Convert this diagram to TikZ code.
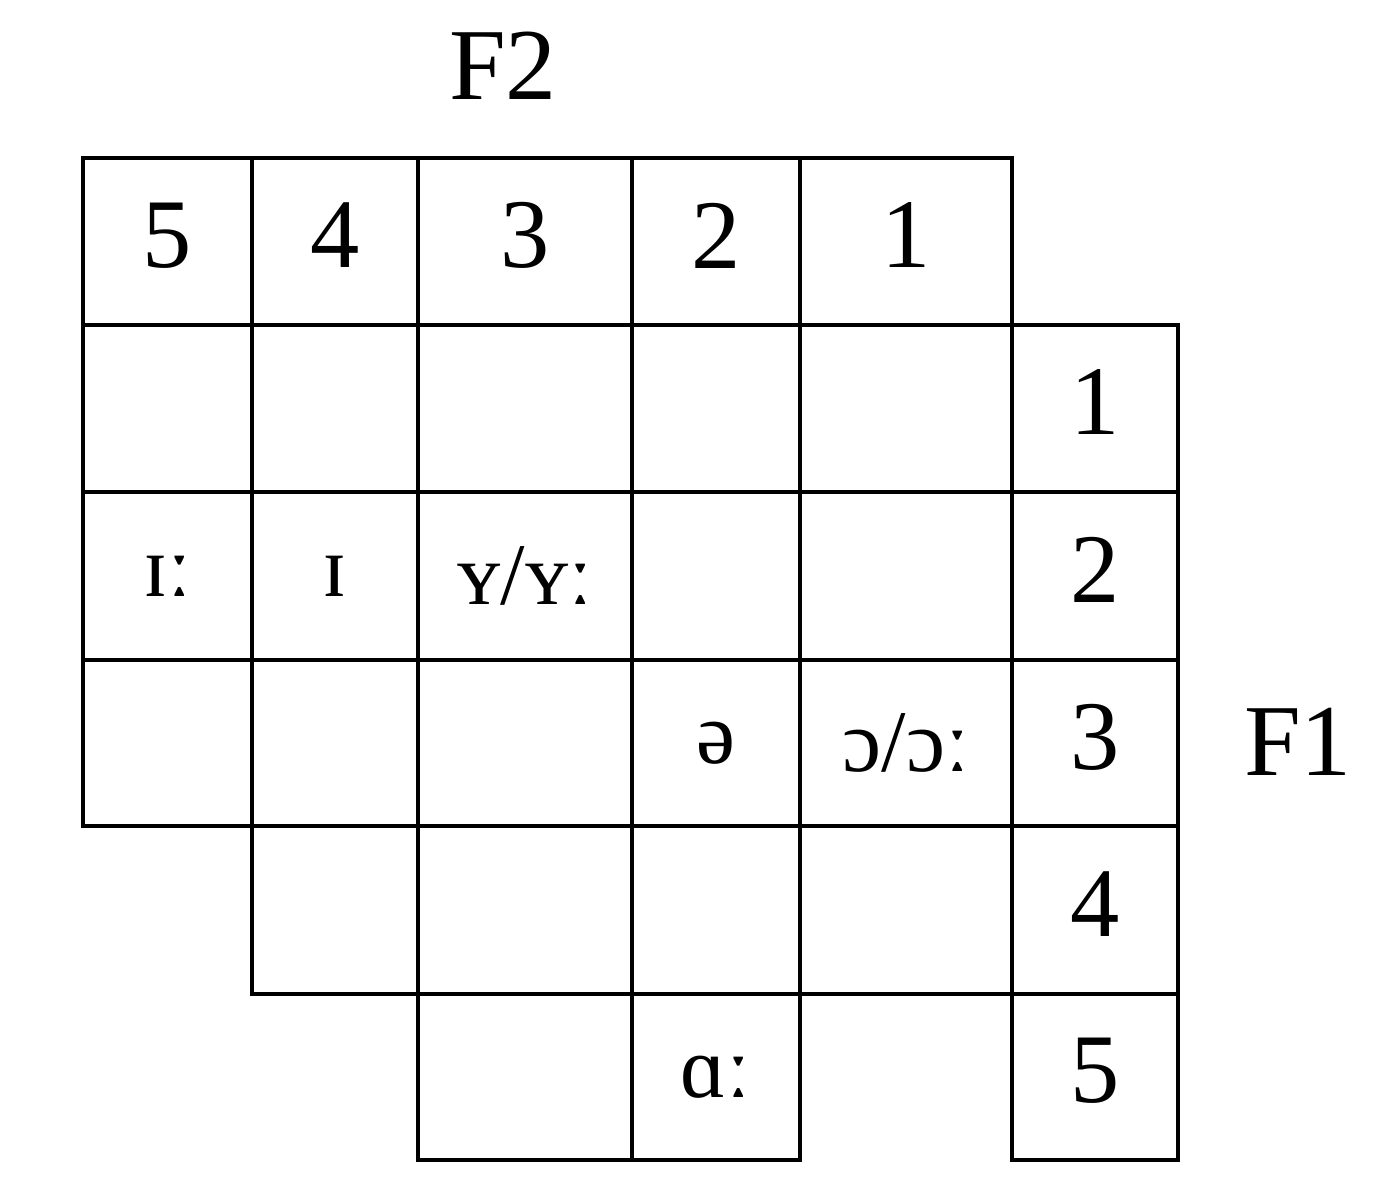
\documentclass[tikz,border=0pt]{standalone}
\usepackage{fontspec}
\setmainfont{Liberation Serif}
\begin{document}
\begin{tikzpicture}[x=0.01cm,y=-0.01cm,line width=1.2pt,
  lbl/.style={font=\fontsize{28}{30}\selectfont,yshift=0.06cm},
  ipa/.style={font=\fontsize{25}{28}\selectfont},
  ax/.style={font=\fontsize{29}{32}\selectfont}]
\useasboundingbox (0,0) rectangle (1400,1201);
\def\xs{{83,252,418,632,800,1012,1178}}
\def\ys{{158,325,492,660,826,994,1160}}
\foreach \r/\c in {0/0,0/1,0/2,0/3,0/4,
  1/0,1/1,1/2,1/3,1/4,1/5,
  2/0,2/1,2/2,2/3,2/4,2/5,
  3/0,3/1,3/2,3/3,3/4,3/5,
  4/1,4/2,4/3,4/4,4/5,
  5/2,5/3,5/5}{
  \pgfmathsetmacro\xa{\xs[\c]}\pgfmathsetmacro\xb{\xs[\c+1]}
  \pgfmathsetmacro\ya{\ys[\r]}\pgfmathsetmacro\yb{\ys[\r+1]}
  \draw (\xa,\ya) rectangle (\xb,\yb);
  \node (c\r\c) at ({(\xa+\xb)/2},{(\ya+\yb)/2}) {};
}
\node[lbl] at (c00) {5};
\node[lbl] at (c01) {4};
\node[lbl] at (c02) {3};
\node[lbl] at (c03) {2};
\node[lbl] at (c04) {1};
\node[lbl] at (c15) {1};
\node[lbl] at (c25) {2};
\node[lbl] at (c35) {3};
\node[lbl] at (c45) {4};
\node[lbl] at (c55) {5};
\node[ipa] at (c20) {ɪː};
\node[ipa] at (c21) {ɪ};
\node[ipa] at (c22) {ʏ/ʏː};
\node[ipa] at (c33) {ə};
\node[ipa] at (c34) {ɔ/ɔː};
\node[ipa] at (c53) {ɑː};
\node[ax] (f2) at (503,66) {F2};
\node[ax] (f1) at (1298,742) {F1};
\end{tikzpicture}
\end{document}
